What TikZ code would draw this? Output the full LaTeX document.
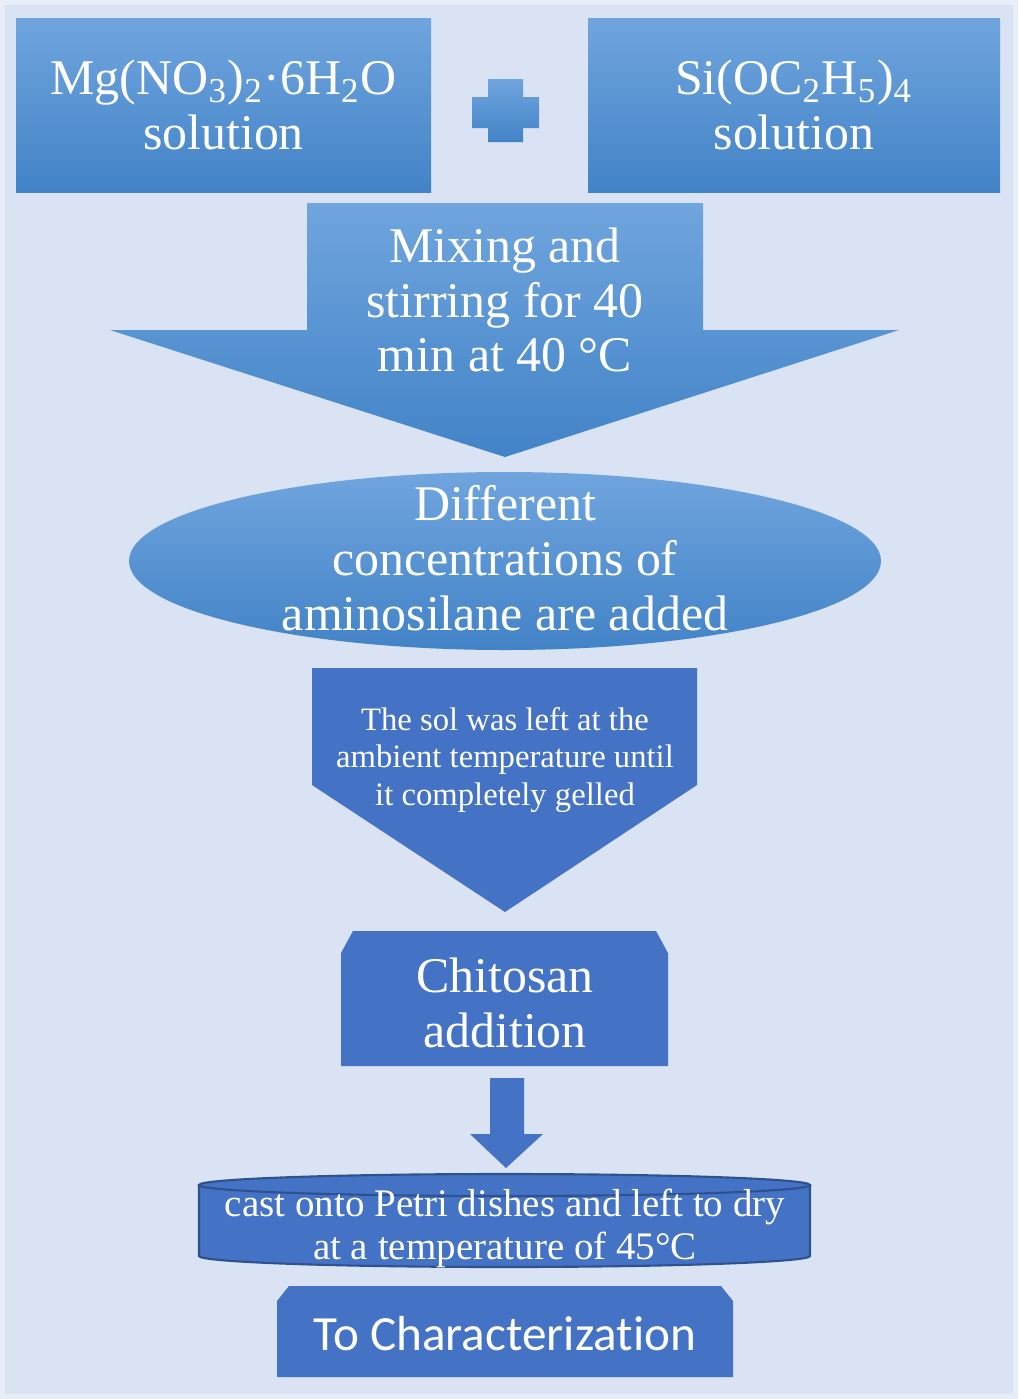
\documentclass[tikz,border=0pt]{standalone}
\usepackage{fontspec}
\setmainfont{Liberation Serif}
\newfontfamily\sansfont[Ligatures=CommonOff]{Carlito}
\usetikzlibrary{shapes.geometric}

\definecolor{bgblue}{RGB}{218,227,243}
\definecolor{edgeblue}{RGB}{232,238,248}
\definecolor{lighttop}{RGB}{112,165,222}
\definecolor{lightbot}{RGB}{66,131,199}
\definecolor{darkblue}{RGB}{68,114,196}
\definecolor{rimblue}{RGB}{47,82,143}

\tikzset{
  softfill/.style={top color=lighttop, bottom color=lightbot, draw=none},
  hardfill/.style={fill=darkblue, draw=none},
  bigtext/.style={text=white, align=center, inner sep=0pt, font=\fontsize{14.2}{15.6}\selectfont},
  smalltext/.style={text=white, align=center, inner sep=0pt, font=\fontsize{9.3}{10.8}\selectfont},
  dishtext/.style={text=white, align=center, inner sep=0pt, font=\fontsize{11.1}{12.2}\selectfont},
}

\begin{document}
\begin{tikzpicture}

    % Background
    \useasboundingbox (0,0) rectangle (10.18,-13.99);
    \fill[edgeblue] (0,0) rectangle (10.18,-13.99);
    \fill[bgblue] (0.05,-0.05) rectangle (10.13,-13.94);

    % Define nodes
    \node[softfill, bigtext, minimum width=4.15cm, minimum height=1.74cm] (mg) at (2.235,-1.05)
        {Mg(NO\textsubscript{3})\textsubscript{2}·6H\textsubscript{2}O\\solution};
    \node[softfill, bigtext, minimum width=4.12cm, minimum height=1.74cm] (teos) at (7.94,-1.05)
        {Si(OC\textsubscript{2}H\textsubscript{5})\textsubscript{4}\\solution};

    % plus sign
    \shade[softfill] (4.88,-0.79) -- (5.23,-0.79) -- (5.23,-0.97) -- (5.39,-0.97) -- (5.39,-1.28)
        -- (5.23,-1.28) -- (5.23,-1.42) -- (4.88,-1.42) -- (4.88,-1.28) -- (4.72,-1.28)
        -- (4.72,-0.97) -- (4.88,-0.97) -- cycle;

    % big arrow
    \shade[softfill] (3.07,-2.03) -- (7.03,-2.03) -- (7.03,-3.30) -- (8.99,-3.30) -- (5.05,-4.57)
        -- (1.10,-3.30) -- (3.07,-3.30) -- cycle;
    \node[bigtext] (mix) at (5.05,-3.00) {Mixing and\\stirring for 40\\min at 40 °C};

    % ellipse
    \node[ellipse, softfill, minimum width=7.52cm, minimum height=1.78cm, inner sep=0pt] (oval) at (5.05,-5.61) {};
    \node[bigtext] (amino) at (5.05,-5.58) {Different\\concentrations of\\aminosilane are added};

    % pentagon
    \fill[hardfill] (3.12,-6.68) -- (6.97,-6.68) -- (6.97,-7.85) -- (5.05,-9.12) -- (3.12,-7.85) -- cycle;
    \node[smalltext] (sol) at (5.05,-7.60) {The sol was left at the\\ambient temperature until\\it completely gelled};

    % snipped box
    \fill[hardfill] (3.41,-10.66) -- (3.41,-9.53) -- (3.53,-9.31) -- (6.56,-9.31) -- (6.68,-9.53)
        -- (6.68,-10.66) -- cycle;
    \node[bigtext] (chitosan) at (5.05,-10.03) {Chitosan\\addition};

    % small arrow
    \fill[hardfill] (4.90,-10.78) -- (5.24,-10.78) -- (5.24,-11.34) -- (5.43,-11.34) -- (5.06,-11.68)
        -- (4.70,-11.34) -- (4.90,-11.34) -- cycle;

    % petri dish
    \fill[hardfill, draw=rimblue, line width=0.6pt] (1.99,-11.85) -- (1.99,-12.56)
        arc[start angle=180, end angle=360, x radius=3.055, y radius=0.11] -- (8.10,-11.85);
    \draw[hardfill, draw=rimblue, line width=0.6pt] (5.045,-11.85) ellipse [x radius=3.055, y radius=0.11];
    \node[dishtext] (petri) at (5.05,-12.28) {cast onto Petri dishes and left to dry\\at a temperature of 45°C};

    % last box
    \fill[hardfill] (2.77,-13.77) -- (2.77,-13.01) -- (2.89,-12.86) -- (7.21,-12.86) -- (7.33,-13.01)
        -- (7.33,-13.77) -- cycle;
    \node[text=white, font=\sansfont\fontsize{14}{16}\selectfont] (charac) at (5.05,-13.34) {To Characterization};

\end{tikzpicture}
\end{document}
